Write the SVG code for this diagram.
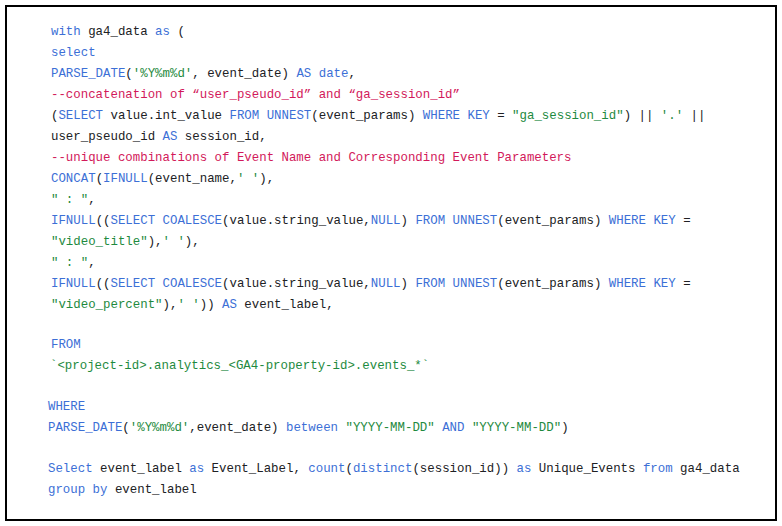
<svg xmlns="http://www.w3.org/2000/svg" width="782" height="526" viewBox="0 0 782 526">
<style>
text{font-family:"Liberation Mono","DejaVu Sans Mono",monospace;font-size:12.4px;fill:#202124;white-space:pre}
.k{fill:#3c6fd6}.s{fill:#1e8a3e}.c{fill:#d2195a}
</style>
<rect x="0" y="0" width="782" height="526" fill="#fff"/>
<rect x="6" y="6" width="770" height="514" fill="#fff" stroke="#000" stroke-width="2"/>
<g id="code" xml:space="preserve">
<text x="51" y="35"><tspan class="k">with</tspan> ga4_data <tspan class="k">as</tspan> (</text>
<text x="51" y="56" class="k">select</text>
<text x="51" y="77"><tspan class="k">PARSE_DATE</tspan>(<tspan class="s">'%Y%m%d'</tspan>, event_date) <tspan class="k">AS</tspan> <tspan class="k">date</tspan>,</text>
<text x="51" y="98" class="c">--concatenation of “user_pseudo_id” and “ga_session_id”</text>
<text x="51" y="119">(<tspan class="k">SELECT</tspan> value.int_value <tspan class="k">FROM</tspan> <tspan class="k">UNNEST</tspan>(event_params) <tspan class="k">WHERE</tspan> <tspan class="k">KEY</tspan> = <tspan class="s">"ga_session_id"</tspan>) || <tspan class="s">'.'</tspan> ||</text>
<text x="51" y="140">user_pseudo_id <tspan class="k">AS</tspan> session_id,</text>
<text x="51" y="161" class="c">--unique combinations of Event Name and Corresponding Event Parameters</text>
<text x="51" y="182"><tspan class="k">CONCAT</tspan>(<tspan class="k">IFNULL</tspan>(event_name,<tspan class="s">' '</tspan>),</text>
<text x="51" y="203"><tspan class="s">" : "</tspan>,</text>
<text x="51" y="224"><tspan class="k">IFNULL</tspan>((<tspan class="k">SELECT</tspan> <tspan class="k">COALESCE</tspan>(value.string_value,<tspan class="k">NULL</tspan>) <tspan class="k">FROM</tspan> <tspan class="k">UNNEST</tspan>(event_params) <tspan class="k">WHERE</tspan> <tspan class="k">KEY</tspan> =</text>
<text x="51" y="245"><tspan class="s">"video_title"</tspan>),<tspan class="s">' '</tspan>),</text>
<text x="51" y="266"><tspan class="s">" : "</tspan>,</text>
<text x="51" y="287"><tspan class="k">IFNULL</tspan>((<tspan class="k">SELECT</tspan> <tspan class="k">COALESCE</tspan>(value.string_value,<tspan class="k">NULL</tspan>) <tspan class="k">FROM</tspan> <tspan class="k">UNNEST</tspan>(event_params) <tspan class="k">WHERE</tspan> <tspan class="k">KEY</tspan> =</text>
<text x="51" y="308"><tspan class="s">"video_percent"</tspan>),<tspan class="s">' '</tspan>)) <tspan class="k">AS</tspan> event_label,</text>
<text x="51" y="348" class="k">FROM</text>
<text x="50" y="369" class="s">`&lt;project-id&gt;.analytics_&lt;GA4-property-id&gt;.events_*`</text>
<text x="48" y="410" class="k">WHERE</text>
<text x="48" y="431"><tspan class="k">PARSE_DATE</tspan>(<tspan class="s">'%Y%m%d'</tspan>,event_date) <tspan class="k">between</tspan> <tspan class="s">"YYYY-MM-DD"</tspan> <tspan class="k">AND</tspan> <tspan class="s">"YYYY-MM-DD"</tspan>)</text>
<text x="48" y="472"><tspan class="k">Select</tspan> event_label <tspan class="k">as</tspan> Event_Label, <tspan class="k">count</tspan>(<tspan class="k">distinct</tspan>(session_id)) <tspan class="k">as</tspan> Unique_Events <tspan class="k">from</tspan> ga4_data</text>
<text x="48" y="493"><tspan class="k">group by</tspan> event_label</text>
</g>
</svg>
